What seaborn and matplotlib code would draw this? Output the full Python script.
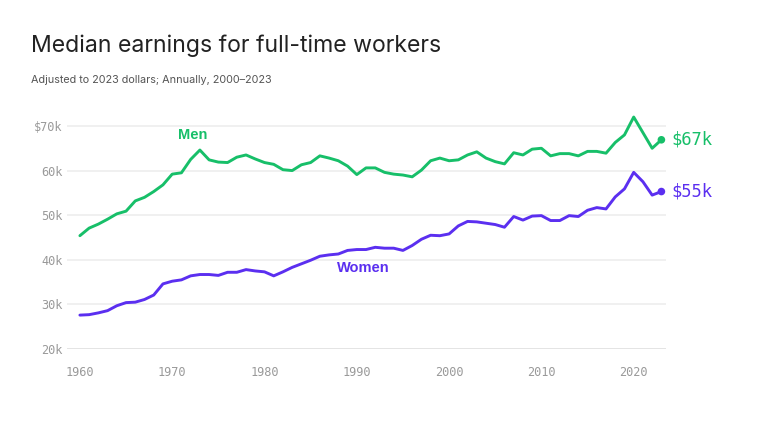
import numpy as np
import pandas as pd
import seaborn as sns
import matplotlib.pyplot as plt

years = list(range(1960, 2024))

men = [45.4, 47.1, 48.0, 49.1, 50.3, 50.9, 53.2, 54.0, 55.3, 56.8,
       59.2, 59.5, 62.5, 64.6, 62.4, 61.9, 61.8, 63.0, 63.5, 62.6,
       61.8, 61.4, 60.2, 60.0, 61.3, 61.8, 63.3, 62.8, 62.2, 61.0,
       59.1, 60.6, 60.6, 59.6, 59.2, 59.0, 58.6, 60.1, 62.2, 62.8,
       62.2, 62.4, 63.5, 64.2, 62.8, 62.0, 61.5, 64.0, 63.5, 64.8,
       65.0, 63.3, 63.8, 63.8, 63.3, 64.3, 64.3, 63.9, 66.3, 68.0,
       72.0, 68.5, 65.0, 66.9]

women = [27.6, 27.7, 28.1, 28.6, 29.7, 30.4, 30.5, 31.1, 32.1, 34.6,
         35.2, 35.5, 36.4, 36.7, 36.7, 36.5, 37.2, 37.2, 37.8, 37.5,
         37.3, 36.4, 37.3, 38.3, 39.1, 39.9, 40.8, 41.1, 41.3, 42.1,
         42.3, 42.3, 42.8, 42.6, 42.6, 42.1, 43.2, 44.6, 45.5, 45.4,
         45.8, 47.6, 48.6, 48.5, 48.2, 47.9, 47.3, 49.7, 48.9, 49.8,
         49.9, 48.8, 48.8, 49.9, 49.7, 51.1, 51.7, 51.4, 54.1, 55.9,
         59.6, 57.5, 54.5, 55.3]

y_ticks = [20, 30, 40, 50, 60, 70]
y_tick_labels = ['20k', '30k', '40k', '50k', '60k', '$70k']
x_ticks = [1960, 1970, 1980, 1990, 2000, 2010, 2020]
end_labels = {'Men': '$67k', 'Women': '$55k'}

green = '#17bf69'
purple = '#5b2ff0'
pal = {'Men': green, 'Women': purple}

df = pd.DataFrame({
    'year': years * 2,
    'earnings': np.array(men + women) * 1000,
    'sex': ['Men'] * len(years) + ['Women'] * len(years),
})

sns.set_style('white')
plt.rcParams['font.family'] = ['Inter', 'DejaVu Sans']

fig = plt.figure(figsize=(7.68, 4.32), dpi=100)
ax = fig.add_axes([0.0872, 0.1921, 0.78, 0.5473])

for t in y_ticks:
    ax.axhline(t * 1000, color='#dddddd' if t == 20 else '#ececec', lw=1.1, zorder=0)

sns.lineplot(data=df, x='year', y='earnings', hue='sex', palette=pal,
             lw=2.1, legend=False, ax=ax)

last = df[df['year'] == years[-1]]
sns.scatterplot(data=last, x='year', y='earnings', hue='sex', palette=pal,
                s=30, edgecolor='none', legend=False, ax=ax, zorder=5)

for _, r in last.iterrows():
    ax.annotate(end_labels[r['sex']], (r['year'], r['earnings']),
                xytext=(7, 0), textcoords='offset points', va='center',
                ha='left', fontsize=12.3, color=pal[r['sex']],
                fontfamily='DejaVu Sans Mono', annotation_clip=False)

ax.text(1970.6, 68000, 'Men', color=green, fontsize=10.5, fontweight='bold',
        family='Liberation Sans', va='center')
ax.text(1987.9, 38200, 'Women', color=purple, fontsize=10.5, fontweight='bold',
        family='Liberation Sans', va='center')

ax.set_xlim(1958.6, 2023.5)
ax.set_ylim(20000, 73000)
ax.set_yticks([t * 1000 for t in y_ticks])
ax.set_yticklabels(y_tick_labels)
ax.set_xticks(x_ticks)
ax.tick_params(axis='y', length=0, pad=3, labelsize=8.6, labelcolor='#999999')
ax.tick_params(axis='x', length=7, width=1, color='#dddddd', pad=5,
               labelsize=8.6, labelcolor='#999999')
for lab in ax.get_xticklabels() + ax.get_yticklabels():
    lab.set_family('DejaVu Sans Mono')
ax.set_xlabel('')
ax.set_ylabel('')
sns.despine(ax=ax, left=True, bottom=True)

fig.text(0.041, 0.895, 'Median earnings for full-time workers', fontsize=16.6,
         color='#222222', va='center')
fig.text(0.041, 0.815, 'Adjusted to 2023 dollars; Annually, 2000\u20132023',
         fontsize=7.8, color='#555555', va='center')

fig.savefig('out.png', dpi=100)
